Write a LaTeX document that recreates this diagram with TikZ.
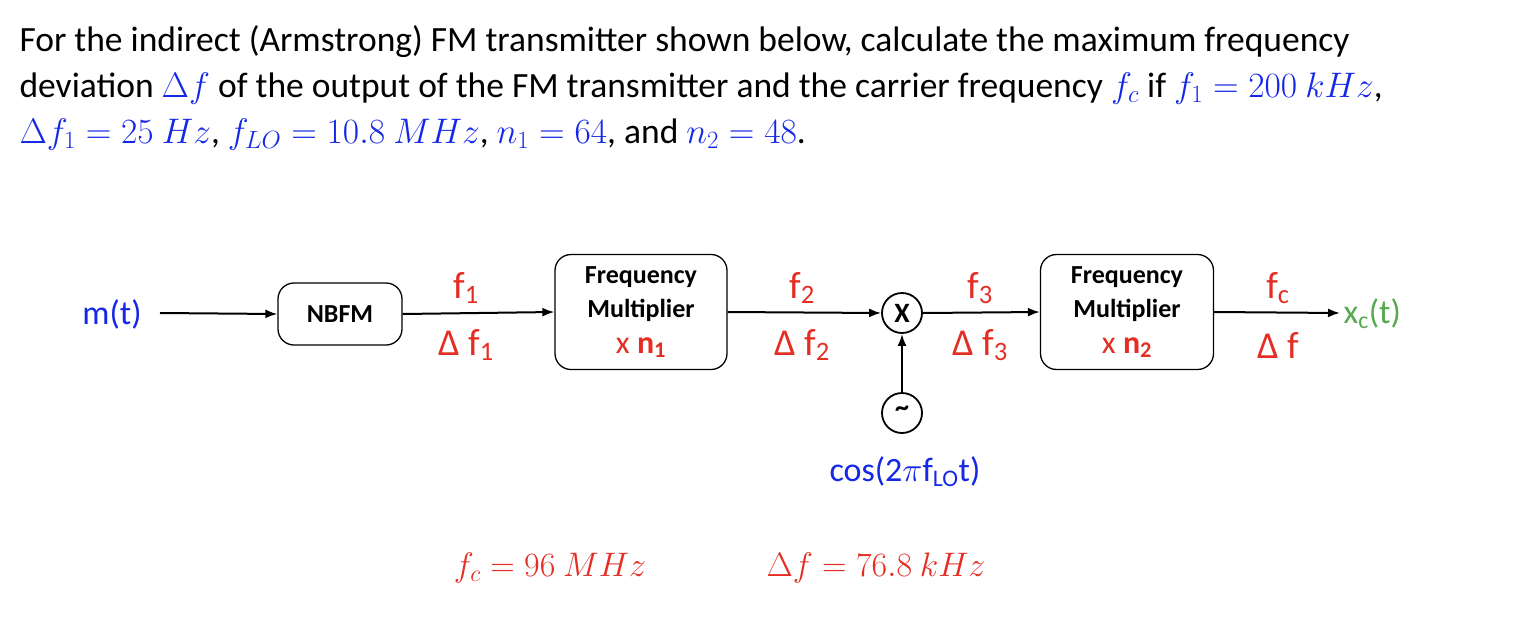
\RequirePackage{fix-cm}
\documentclass[tikz,border=0pt]{standalone}
\usepackage{fontspec}
\setmainfont{Carlito}
\usetikzlibrary{arrows.meta}
\definecolor{bl}{RGB}{20,40,230}
\definecolor{rd}{RGB}{228,45,35}
\definecolor{gr}{RGB}{85,170,80}
\begin{document}
\begin{tikzpicture}[x=1pt,y=-1pt,
 box/.style={draw,line width=1.3pt,rounded corners=16pt,align=center,inner sep=0pt},
 arr/.style={line width=2pt,-{Latex[length=12pt,width=9pt]}},
 lab/.style={text=rd,font=\fontsize{38}{40}\selectfont},
 bt/.style={font=\bfseries\fontsize{26}{34}\selectfont}]
\useasboundingbox (0,0) rectangle (1516,632);
\node[anchor=west,align=left,font=\fontsize{35.5}{46}\selectfont] (q) at (16,88) {For the indirect (Armstrong) FM transmitter shown below, calculate the maximum frequency\\
deviation \textcolor{bl}{$\Delta f$} of the output of the FM transmitter and the carrier frequency \textcolor{bl}{$f_c$} if \textcolor{bl}{$f_1=200\ kHz$},\\
\textcolor{bl}{$\Delta f_1=25\ Hz$}, \textcolor{bl}{$f_{LO}=10.8\ MHz$}, \textcolor{bl}{$n_1=64$}, and \textcolor{bl}{$n_2=48$}.};
\node[text=bl,font=\fontsize{34}{36}\selectfont] (m) at (112,314) {m(t)};
\node[box,minimum width=124pt,minimum height=62pt,bt] (nb) at (340,314) {NBFM};
\node[box,minimum width=172pt,minimum height=115pt,bt] (fm1) at (641,312) {Frequency\\Multiplier\\[2pt]{\mdseries\fontsize{32}{34}\selectfont\textcolor{rd}{x \textbf{n\textsubscript{1}}}}};
\node[draw,circle,line width=1.8pt,minimum size=40pt,inner sep=0pt,font=\bfseries\fontsize{28}{30}\selectfont] (mx) at (902,313) {X};
\node[draw,circle,line width=1.8pt,minimum size=40pt,inner sep=0pt,font=\bfseries\fontsize{28}{30}\selectfont] (os) at (902,413) {\raisebox{3pt}{\~{}}};
\node[box,minimum width=173pt,minimum height=115pt,bt] (fm2) at (1127,312) {Frequency\\Multiplier\\[2pt]{\mdseries\fontsize{32}{34}\selectfont\textcolor{rd}{x \textbf{n\textsubscript{2}}}}};
\coordinate (end) at (1340,313);
\node[text=gr,font=\fontsize{34}{36}\selectfont,anchor=west] (xc) at (1340,314) {x\textsubscript{c}(t)};
\node[text=bl,font=\fontsize{34}{36}\selectfont] (cs) at (905,472) {cos(2$\pi$f\textsubscript{\rmfamily LO}t)};
\draw[arr] (160,313) -- (nb.west);
\draw[arr] (nb.east) -- (fm1.west);
\draw[arr] (fm1.east) -- (mx.west);
\draw[arr] (mx.east) -- (fm2.west);
\draw[arr] (os.north) -- (mx.south);
\draw[arr] (fm2.east) -- (end);
\node[lab] (l1) at (466,288) {f\textsubscript{1}};
\node[lab] (d1) at (466,345) {Δ f\textsubscript{1}};
\node[lab] (l2) at (802,288) {f\textsubscript{2}};
\node[lab] (d2) at (802,345) {Δ f\textsubscript{2}};
\node[lab] (l3) at (980,288) {f\textsubscript{3}};
\node[lab] (d3) at (980,345) {Δ f\textsubscript{3}};
\node[lab] (l4) at (1278,288) {f\textsubscript{c}};
\node[lab] (d4) at (1278,345) {Δ f};
\node[text=rd,font=\fontsize{34}{36}\selectfont] (a1) at (550,568) {$f_c=96\ MHz$};
\node[text=rd,font=\fontsize{34}{36}\selectfont] (a2) at (876,568) {$\Delta f=76.8\ kHz$};
\end{tikzpicture}
\end{document}
